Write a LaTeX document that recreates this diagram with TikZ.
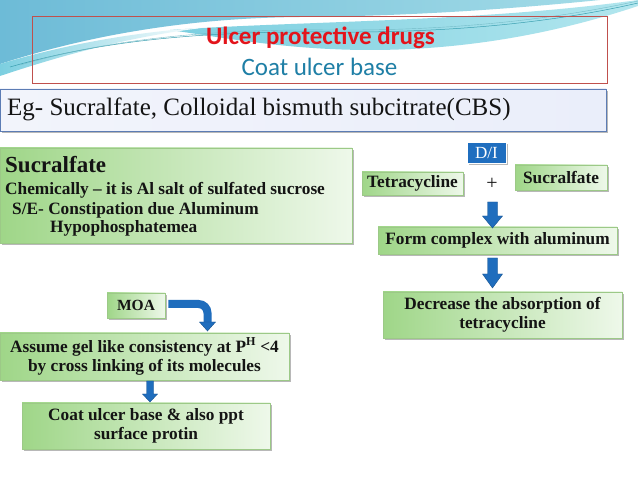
\documentclass[tikz,border=0pt]{standalone}
\usepackage{fontspec}
\setmainfont{Liberation Serif}
\newfontfamily\titlefont{Carlito}
\usetikzlibrary{shadows,calc}
\definecolor{bgA}{HTML}{6DBBD7}
\definecolor{bgB}{HTML}{A2DBE7}
\definecolor{cyA}{HTML}{7CCFE0}
\definecolor{cyB}{HTML}{B2E6EE}
\definecolor{waveline}{HTML}{3A9FB0}
\definecolor{titlered}{HTML}{E3141B}
\definecolor{titleblue}{HTML}{1F7FA6}
\definecolor{boxred}{HTML}{C0504D}
\definecolor{egL}{HTML}{F2F4FB}
\definecolor{egM}{HTML}{94ACDE}
\definecolor{egR}{HTML}{EAEEFA}
\definecolor{egB}{HTML}{5C7CB4}
\definecolor{gL}{HTML}{9FD688}
\definecolor{gR}{HTML}{EEF8EA}
\definecolor{gB}{HTML}{9CC987}
\definecolor{diblue}{HTML}{1F6EBF}
\definecolor{arrfill}{HTML}{1F6DBD}
\definecolor{arrdraw}{HTML}{18548F}
\definecolor{txt}{HTML}{141414}
\tikzset{
  shd/.style={drop shadow={shadow xshift=1.5pt, shadow yshift=-2pt, fill=black, opacity=0.28}},
  gbox/.style={shd, draw=gB, line width=0.6pt, left color=gL, right color=gR,
    inner sep=2pt, text=txt, font=\bfseries\fontsize{17.3}{19}\selectfont, align=center},
  egbox/.style={shd, draw=egB, line width=0.8pt, left color=egL, middle color=egM, right color=egR},
  titlebox/.style={draw=boxred, line width=0.8pt},
  dibox/.style={shd, draw=white, line width=0.6pt, fill=diblue, text=white,
    font=\fontsize{17}{19}\selectfont, inner sep=1pt},
  blockarrow/.style={fill=arrfill, draw=arrdraw, line width=0.4pt},
  plain/.style={inner sep=0pt, text=txt}
}
\newcommand\blkarrow[5]{%
  \path[blockarrow] let \p1=(#1), \p2=(#2) in
   (\x1-#3pt/2,\y1) -- (\x1+#3pt/2,\y1) -- (\x1+#3pt/2,\y2+#5pt) -- (\x1+#4pt/2,\y2+#5pt)
   -- (\x1,\y2) -- (\x1-#4pt/2,\y2+#5pt) -- (\x1-#3pt/2,\y2+#5pt) -- cycle;}
\begin{document}
\begin{tikzpicture}[x=1pt,y=-1pt]
\useasboundingbox (0,0) rectangle (638,478);
\fill[white] (0,0) rectangle (638,478);
% background waves
\shade[left color=bgA, right color=bgB] (0,0) -- (600,0)
  .. controls (520,8) and (420,16) .. (300,17)
  .. controls (180,18) and (80,38) .. (0,64) -- cycle;
\shade[left color=cyA, right color=cyB] (170,30)
  .. controls (300,21) and (480,22) .. (638,0) -- (638,6)
  .. controls (560,32) and (470,50) .. (370,50)
  .. controls (290,50) and (225,38) .. (170,30) -- cycle;
\shade[left color=cyA, right color=white] (0,64)
  .. controls (60,46) and (130,32) .. (210,27)
  .. controls (130,36) and (60,56) .. (0,76) -- cycle;
\draw[waveline, line width=0.5pt] (10,67) .. controls (100,41) and (200,31) .. (330,32)
  .. controls (460,33) and (560,21) .. (638,3);
\draw[waveline!70, line width=0.4pt] (20,65) .. controls (110,39) and (210,29) .. (330,30)
  .. controls (460,31) and (560,18) .. (638,1);
% title
\node[titlebox, minimum width=575pt, minimum height=67pt, inner sep=0pt] (title) at (319.5,49.5) {};
\node[plain, font=\titlefont\fontsize{25}{30}\selectfont, text=titlered, anchor=base] (t1) at (320.5,45) {\bfseries Ulcer protective drugs};
\node[plain, font=\titlefont\fontsize{25}{30}\selectfont, text=titleblue, anchor=base] (t2) at (319.5,76) {Coat ulcer base};
% Eg box
\node[egbox, minimum width=606pt, minimum height=42pt, inner sep=0pt] (eg) at (303,110) {};
\node[plain, font=\fontsize{25}{30}\selectfont, anchor=base west] (egt) at (7,116) {Eg- Sucralfate, Colloidal bismuth subcitrate(CBS)};
% Sucralfate box
\node[gbox, minimum width=352pt, minimum height=95pt] (suc) at (176,195.5) {};
\node[plain, font=\bfseries\fontsize{23}{26}\selectfont, anchor=base west] (suc1) at (5,173) {Sucralfate};
\node[plain, font=\bfseries\fontsize{17.3}{19}\selectfont, anchor=base west] (suc2) at (5,195) {Chemically – it is Al salt of sulfated sucrose};
\node[plain, font=\bfseries\fontsize{17.3}{19}\selectfont, anchor=base west] (suc3) at (12,215) {S/E- Constipation due Aluminum};
\node[plain, font=\bfseries\fontsize{17.3}{19}\selectfont, anchor=base west] (suc4) at (50,233) {Hypophosphatemea};
% D/I branch
\node[dibox, minimum width=39pt, minimum height=21pt] (di) at (486.5,152.5) {D/I};
\node[gbox, minimum width=101pt, minimum height=23pt] (tet) at (412.5,183.5) {Tetracycline};
\node[plain, font=\fontsize{20}{22}\selectfont] (plus) at (492,183.5) {+};
\node[gbox, minimum width=92pt, minimum height=25pt] (sucr) at (561,177.5) {Sucralfate};
\node[gbox, minimum width=239pt, minimum height=27pt] (form) at (497.5,240.5) {Form complex with aluminum};
\node[gbox, minimum width=239pt, minimum height=46pt] (dec) at (502.5,315) {Decrease the absorption of\\tetracycline};
\coordinate (a1s) at (492.5,202);
\coordinate (a1e) at (492.5,228);
\coordinate (a2s) at (492.5,258);
\coordinate (a2e) at (492.5,288);
\blkarrow{a1s}{a1e}{10}{20}{12}
\blkarrow{a2s}{a2e}{10}{20}{14}
% MOA branch
\node[gbox, minimum width=58pt, minimum height=25pt, font=\bfseries\fontsize{15.5}{17}\selectfont] (moa) at (136,305.5) {MOA};
\node[gbox, minimum width=289pt, minimum height=47pt] (gel) at (144.5,356.5) {Assume gel like consistency at P\textsuperscript{H} <4\\by cross linking of its molecules};
\node[gbox, minimum width=248pt, minimum height=46pt] (coat) at (146,426) {Coat ulcer base \& also ppt\\surface protin};
\draw[arrfill, line width=8pt, rounded corners=9pt] ($(moa.east)+(3,-1.5)$) -- (207.5,304) -- (207.5,323);
\path[blockarrow] (199.5,322) -- (215.5,322) -- (207.5,331) -- cycle;
\coordinate (a3s) at (150,381);
\coordinate (a3e) at (150,402);
\blkarrow{a3s}{a3e}{7}{15}{8}
\end{tikzpicture}
\end{document}
